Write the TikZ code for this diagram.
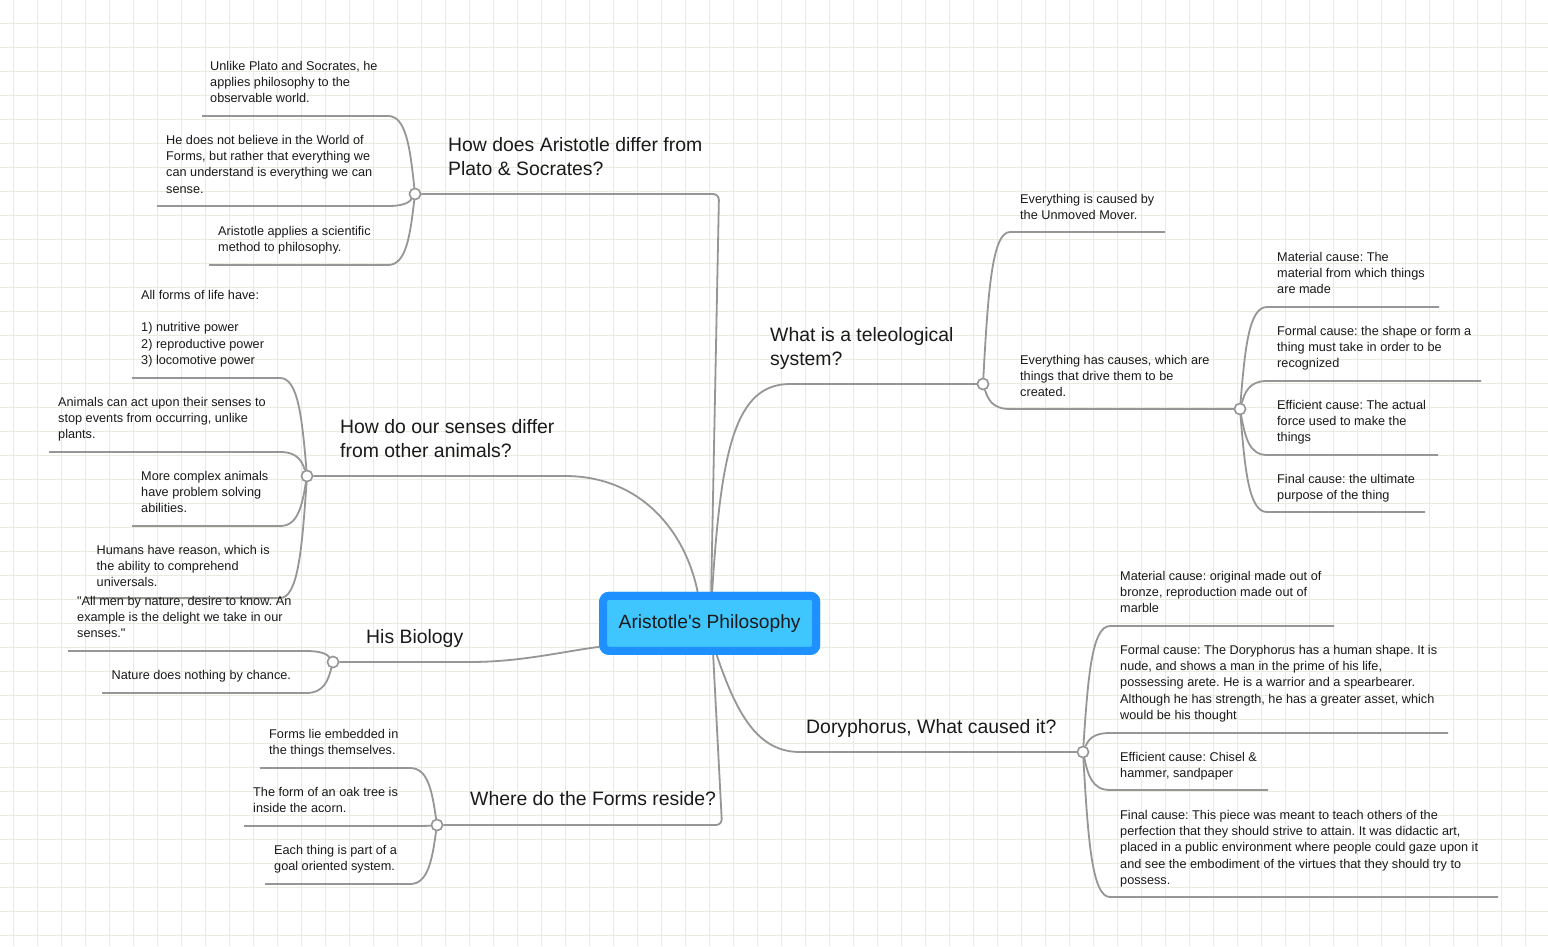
\documentclass[tikz,border=0pt]{standalone}
\usepackage{fontspec}
\setmainfont{Liberation Sans}[Ligatures=TeXOff]
\usetikzlibrary{calc}
\frenchspacing
\definecolor{conncol}{RGB}{150,150,150}
\definecolor{gridcol}{RGB}{232,236,224}
\definecolor{textcol}{RGB}{26,26,26}
\definecolor{rootborder}{RGB}{30,144,255}
\definecolor{rootfill}{RGB}{64,198,255}
\tikzset{
  conn/.style={draw=conncol, line width=1.8pt},
  dot/.style={circle, draw=conncol, fill=white, line width=1.5pt, minimum size=11pt, inner sep=0pt},
  leaf/.style={anchor=base west, inner sep=0pt, align=left, font=\frenchspacing\fontsize{12.7}{16.2}\selectfont, text=textcol},
  topic/.style={anchor=base west, inner sep=0pt, align=left, font=\fontsize{19.4}{24}\selectfont, text=textcol},
  rootbox/.style={rectangle, rounded corners=6pt, draw=rootborder, fill=rootfill, line width=8pt,
    minimum width=213pt, minimum height=55pt, font=\fontsize{19.2}{24}\selectfont, text=textcol}
}
\newcommand\kidL[5]{\draw[conn] (#1) .. controls ({#2-5},{#3+0.6*(#4-#3)}) and ({#2-9},#4) .. ({#2-27},#4) -- (#5,#4);}
\newcommand\kidR[5]{\draw[conn] (#1) .. controls ({#2+5},{#3+0.6*(#4-#3)}) and ({#2+9},#4) .. ({#2+27},#4) -- (#5,#4);}
\begin{document}
\begin{tikzpicture}[x=1pt,y=-1pt]
\useasboundingbox (0,0) rectangle (1548,946);
\fill[white] (0,0) rectangle (1548,946);
\foreach \k in {0,...,63} {\draw[gridcol, line width=1.2pt] ({13.3+24*\k},0) -- ({13.3+24*\k},946);}
\foreach \k in {0,...,38} {\draw[gridcol, line width=1.2pt] (0,{23.3+24*\k}) -- (1548,{23.3+24*\k});}

% root
\node[rootbox] (root) at (709.65,623.35) {Aristotle's Philosophy};

% branch circles
\node[dot] (c1) at (415,194) {};
\node[dot] (c2) at (307,476) {};
\node[dot] (c3) at (333,662) {};
\node[dot] (c4) at (437,825) {};
\node[dot] (c5) at (983,384) {};
\node[dot] (c7) at (1240,409) {};
\node[dot] (c6) at (1083,752) {};

% main branches
\draw[conn, rounded corners=6pt] (c1) -- (719,194) -- ([xshift=1.5pt]root.north);
\draw[conn] (c2) -- (565,476) .. controls (640,476) and (685,530) .. ([xshift=-12pt]root.north);
\draw[conn] (c3) -- (470,662) .. controls (520,662) and (560,652) .. ([yshift=8pt]root.south west);
\draw[conn, rounded corners=6pt] (c4) -- (722,825) -- ([xshift=3.5pt]root.south);
\draw[conn] ([xshift=2.5pt]root.north) .. controls (721,450) and (735,384) .. (790,384) -- (c5);
\draw[conn] ([xshift=7pt]root.south) .. controls (737,715) and (758,752) .. (800,752) -- (c6);

% child connectors
\kidL{c1}{415}{194}{116}{202}
\kidL{c1}{415}{194}{206}{157}
\kidL{c1}{415}{194}{265}{209}
\kidL{c2}{307}{476}{378}{132}
\kidL{c2}{307}{476}{452}{49}
\kidL{c2}{307}{476}{526}{132}
\kidL{c2}{307}{476}{598}{87}
\kidL{c3}{333}{662}{651}{68}
\kidL{c3}{333}{662}{693}{102}
\kidL{c4}{437}{825}{768}{260}
\kidL{c4}{437}{825}{826}{244}
\kidL{c4}{437}{825}{884}{265}
\kidR{c5}{983}{384}{232}{1165}
\draw[conn] (c5) .. controls (988,399) and (992,409) .. (1010,409) -- (c7);
\kidR{c7}{1240}{409}{307}{1439}
\kidR{c7}{1240}{409}{381}{1481}
\kidR{c7}{1240}{409}{455}{1438}
\kidR{c7}{1240}{409}{512}{1425}
\kidR{c6}{1083}{752}{626}{1334}
\kidR{c6}{1083}{752}{733}{1448}
\kidR{c6}{1083}{752}{790}{1268}
\kidR{c6}{1083}{752}{897}{1498}

% redraw circles on top
\foreach \c in {c1,c2,c3,c4,c5,c6,c7} {\node[dot] at (\c) {};}
\node[rootbox] at (root) {Aristotle's Philosophy};

% topics (anchored at the baseline of the last line)
\node[topic] (h1) at (448,175) {How does Aristotle differ from\\Plato \& Socrates?};
\node[topic] (h2) at (340,457) {How do our senses differ\\from other animals?};
\node[topic] (h3) at (366,643) {His Biology};
\node[topic] (h4) at (470,805) {Where do the Forms reside?};
\node[topic] (h5) at (770,365) {What is a teleological\\system?};
\node[topic] (h6) at (806,733) {Doryphorus, What caused it?};

% leaves (anchored at the baseline of the last line)
\node[leaf] (t1a) at (210,102.9) {Unlike Plato and Socrates, he\\applies philosophy to the\\observable world.};
\node[leaf] (t1b) at (166,193.1) {He does not believe in the World of\\Forms, but rather that everything we\\can understand is everything we can\\sense.};
\node[leaf] (t1c) at (218,251.7) {Aristotle applies a scientific\\method to philosophy.};
\node[leaf] (t2a) at (141,364.3) {All forms of life have:\\[16.2pt]1) nutritive power\\2) reproductive power\\3) locomotive power};
\node[leaf] (t2b) at (58,438.9) {Animals can act upon their senses to\\stop events from occurring, unlike\\plants.};
\node[leaf] (t2c) at (141,512.9) {More complex animals\\have problem solving\\abilities.};
\node[leaf] (t2d) at (96.5,586.9) {Humans have reason, which is\\the ability to comprehend\\universals.};
\node[leaf] (t3a) at (77,637.9) {"All men by nature, desire to know. An\\example is the delight we take in our\\senses."};
\node[leaf] (t3b) at (111.5,679.5) {Nature does nothing by chance.};
\node[leaf] (t4a) at (269,754.7) {Forms lie embedded in\\the things themselves.};
\node[leaf] (t4b) at (253,812.7) {The form of an oak tree is\\inside the acorn.};
\node[leaf] (t4c) at (274,870.7) {Each thing is part of a\\goal oriented system.};
\node[leaf] (t5a) at (1020,219.7) {Everything is caused by\\the Unmoved Mover.};
\node[leaf] (t5b) at (1020,396.9) {Everything has causes, which are\\things that drive them to be\\created.};
\node[leaf] (t7a) at (1277,293.9) {Material cause: The\\material from which things\\are made};
\node[leaf] (t7b) at (1277,367.9) {Formal cause: the shape or form a\\thing must take in order to be\\recognized};
\node[leaf] (t7c) at (1277,441.9) {Efficient cause: The actual\\force used to make the\\things};
\node[leaf] (t7d) at (1277,499.7) {Final cause: the ultimate\\purpose of the thing};
\node[leaf] (t6a) at (1120,612.9) {Material cause: original made out of\\bronze, reproduction made out of\\marble};
\node[leaf] (t6b) at (1120,719.3) {Formal cause: The Doryphorus has a human shape. It is\\nude, and shows a man in the prime of his life,\\possessing arete. He is a warrior and a spearbearer.\\Although he has strength, he has a greater asset, which\\would be his thought};
\node[leaf] (t6c) at (1120,777.7) {Efficient cause: Chisel \&\\hammer, sandpaper};
\node[leaf] (t6d) at (1120,884.3) {Final cause: This piece was meant to teach others of the\\perfection that they should strive to attain. It was didactic art,\\placed in a public environment where people could gaze upon it\\and see the embodiment of the virtues that they should try to\\possess.};
\end{tikzpicture}
\end{document}
